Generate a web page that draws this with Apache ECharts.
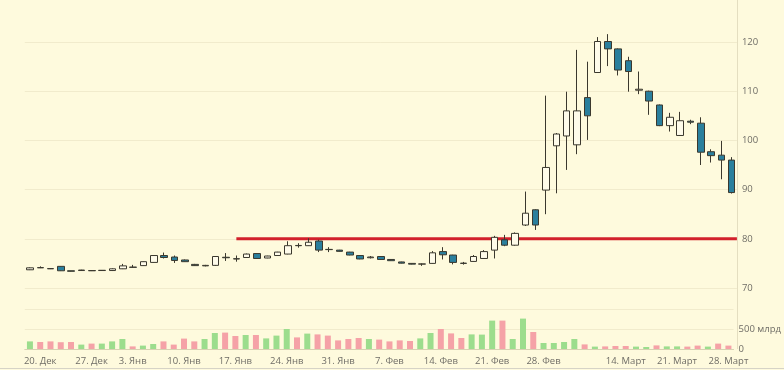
<!DOCTYPE html>
<html><head><meta charset="utf-8">
<script src="https://cdn.jsdelivr.net/npm/echarts@6/dist/echarts.min.js"></script>
<style>html,body{margin:0;padding:0;background:#fefadd}#c{width:784px;height:370px}</style>
</head><body><div id="c"></div>
<script>
const dates = [
 '2021-12-17','2021-12-20','2021-12-21','2021-12-22','2021-12-23','2021-12-24',
 '2021-12-27','2021-12-28','2021-12-29','2021-12-30',
 '2022-01-03','2022-01-04','2022-01-05','2022-01-06','2022-01-07',
 '2022-01-10','2022-01-11','2022-01-12','2022-01-13','2022-01-14',
 '2022-01-17','2022-01-18','2022-01-19','2022-01-20','2022-01-21',
 '2022-01-24','2022-01-25','2022-01-26','2022-01-27','2022-01-28',
 '2022-01-31','2022-02-01','2022-02-02','2022-02-03','2022-02-04',
 '2022-02-07','2022-02-08','2022-02-09','2022-02-10','2022-02-11',
 '2022-02-14','2022-02-15','2022-02-16','2022-02-17','2022-02-18',
 '2022-02-21','2022-02-22','2022-02-23','2022-02-24','2022-02-25',
 '2022-02-28','2022-03-01','2022-03-02','2022-03-03','2022-03-04',
 '2022-03-09','2022-03-10','2022-03-11',
 '2022-03-14','2022-03-15','2022-03-16','2022-03-17','2022-03-18',
 '2022-03-21','2022-03-22','2022-03-23','2022-03-24','2022-03-25',
 '2022-03-28'
];
const open  = [73.7,74.15,73.95,74.4,73.5,73.55,73.55,73.55,73.55,73.9,
 74.25,74.55,75.2,76.6,76.3,75.7,74.8,74.5,74.6,76.25,
 75.95,76.2,77.0,76.1,76.6,76.9,78.65,78.6,79.55,77.85,
 77.7,77.3,76.6,76.15,76.4,75.8,75.3,75.0,74.85,75.0,
 77.4,76.7,75.05,75.4,76.0,77.7,79.8,78.7,82.8,85.9,
 89.9,98.9,100.9,99.1,108.7,113.8,120.1,118.6,116.2,110.2,
 110.0,107.2,103.0,101.0,103.9,103.5,97.7,97.0,96.0];
const close = [74.1,74.1,73.9,73.5,73.4,73.65,73.5,73.6,73.9,74.5,
 74.2,75.35,76.6,76.2,75.6,75.35,74.55,74.6,76.4,76.15,
 75.9,76.9,76.0,76.5,77.3,78.6,78.6,79.3,77.7,77.8,
 77.45,76.7,75.9,76.3,75.8,75.55,75.05,74.85,74.9,77.15,
 76.75,75.2,75.0,76.4,77.4,80.3,78.7,81.1,85.2,82.8,
 94.5,101.3,106.0,106.0,105.0,120.1,118.6,114.3,114.0,110.4,
 108.0,103.0,104.7,104.0,103.7,97.6,96.9,96.0,89.4];
const low   = [73.65,74.05,73.85,73.45,73.35,73.5,73.45,73.5,73.45,73.85,
 74.15,74.5,75.15,76.0,75.1,75.3,74.5,74.4,74.5,75.5,
 75.35,76.15,75.95,76.05,76.55,76.85,78.2,78.55,77.3,77.3,
 77.4,76.65,75.85,76.0,75.75,75.5,75.0,74.8,74.5,74.95,
 75.8,74.8,74.75,75.35,75.95,76.0,78.5,78.6,82.6,81.8,
 85.0,89.25,94.0,97.2,100.1,113.7,115.1,113.2,109.9,109.4,
 105.2,102.9,101.8,100.9,103.3,95.0,95.5,92.1,89.2];
const high  = [74.2,74.4,74.0,74.45,73.5,73.7,73.6,73.65,74.0,74.9,
 74.7,75.4,76.7,77.2,76.6,75.8,74.9,74.7,76.5,77.1,
 76.6,77.0,77.05,76.55,77.35,79.5,79.1,80.1,79.8,78.3,
 77.75,77.35,76.65,76.5,76.45,75.85,75.35,75.05,75.0,77.5,
 78.3,76.75,75.3,76.7,77.7,80.6,80.8,81.3,89.6,86.0,
 109.1,101.5,109.9,118.4,116.0,121.0,121.6,118.7,117.0,114.0,
 110.1,107.3,105.6,105.8,104.2,104.7,98.2,99.9,96.6];
// volume, billions
const volume = [190,175,190,170,175,110,135,135,190,250,
 65,85,125,190,110,260,190,250,400,410,
 325,350,350,265,335,500,290,385,365,335,
 215,250,275,250,235,190,215,200,265,400,
 500,390,275,365,360,710,710,250,760,425,
 150,150,175,250,115,60,65,75,75,60,
 50,90,65,65,60,85,60,135,85];
const volumeUp = [1,0,0,0,0,1,0,1,1,1,
 0,1,1,0,0,0,0,1,1,0,
 0,1,0,1,1,1,0,1,0,0,
 0,0,0,1,0,0,0,0,1,1,
 0,0,0,1,1,1,0,1,1,0,
 1,1,1,1,0,1,0,0,0,1,
 1,0,1,1,0,0,1,0,0];
const xTickIndex = [1,6,10,15,20,25,30,35,40,45,50,58,63,68];
const xTickText = ['20. Дек','27. Дек','3. Янв','10. Янв','17. Янв','24. Янв','31. Янв','7. Фев','14. Фев','21. Фев','28. Фев','14. Март','21. Март','28. Март'];
const priceTicks = [70,80,90,100,110,120];
const levelValue = 80;
const levelFrom = 20;

const GRID = '#f1ebcc';
const TXT = '#6f6d66';
const FONT = 'Open Sans';
const L = 24.8, R = 784 - 736.9;

const chart = echarts.init(document.getElementById('c'), null, {renderer:'canvas'});
chart.setOption({
  backgroundColor: '#fefadd',
  animation: false,
  textStyle: {fontFamily: FONT},
  grid: [
    {left: L, right: R, top: 17.4, height: 295.2},
    {left: L, right: R, top: 309, height: 40}
  ],
  xAxis: [
    {type:'category', gridIndex:0, data: dates, boundaryGap:true, show:false},
    {type:'category', gridIndex:1, data: dates, boundaryGap:true,
     axisLine:{show:true, lineStyle:{color:'#d8d2b2', width:1}},
     axisTick:{show:false},
     axisLabel:{
       interval: (i) => xTickIndex.includes(i),
       formatter: (v, i) => { const k = xTickIndex.indexOf(i); return k >= 0 ? xTickText[k] : ''; },
       color: TXT, fontSize: 9.5, fontFamily: FONT, margin: 7, hideOverlap:false
     },
     splitLine:{show:false}},
    {type:'value', gridIndex:0, min:-0.5, max: dates.length - 0.5, show:false}
  ],
  yAxis: [
    {type:'value', gridIndex:0, position:'right', min:65, max:125, interval:5,
     axisLine:{show:false}, axisTick:{show:false},
     axisLabel:{formatter: (v) => priceTicks.includes(v) ? String(v) : '', color: TXT, fontSize: 9.5, fontFamily: FONT, margin: 5},
     splitLine:{show:true, lineStyle:{color:['rgba(0,0,0,0)', GRID], width:1}}},
    {type:'value', gridIndex:1, position:'right', min:0, max:1000, interval:500,
     axisLine:{show:false}, axisTick:{show:false},
     axisLabel:{formatter: (v) => v === 0 ? '0' : (v === 500 ? '500 млрд' : ''), color: TXT, fontSize: 9.5, fontFamily: FONT, margin: 5},
     splitLine:{show:true, lineStyle:{color: GRID, width:1}}}
  ],
  series: [
    {type:'line', xAxisIndex:2, yAxisIndex:0, z:1, silent:true, symbol:'none',
     data: [[levelFrom, levelValue], [dates.length - 0.5, levelValue]],
     lineStyle:{color:'#d2202b', width:3}},
    {type:'candlestick', xAxisIndex:0, yAxisIndex:0, z:3, barWidth:7,
     data: dates.map((d, i) => [open[i], close[i], low[i], high[i]]),
     itemStyle:{color:'#fefbea', color0:'#2a7f9d', borderColor:'#3b382e', borderColor0:'#3b382e', borderWidth:1}},
    {type:'bar', xAxisIndex:1, yAxisIndex:1, barWidth:6,
     data: volume.map((v, i) => ({value: v, itemStyle:{color: volumeUp[i] ? '#9cdd8d' : '#f5a2a7'}}))}
  ],
  graphic: [
    {type:'line', shape:{x1:737.5, y1:0, x2:737.5, y2:349}, style:{stroke:'#e4dec0', lineWidth:1}, silent:true},
    {type:'line', shape:{x1:0, y1:368.5, x2:784, y2:368.5}, style:{stroke:'#d6d3c6', lineWidth:1}, silent:true}
  ]
});
</script></body></html>
